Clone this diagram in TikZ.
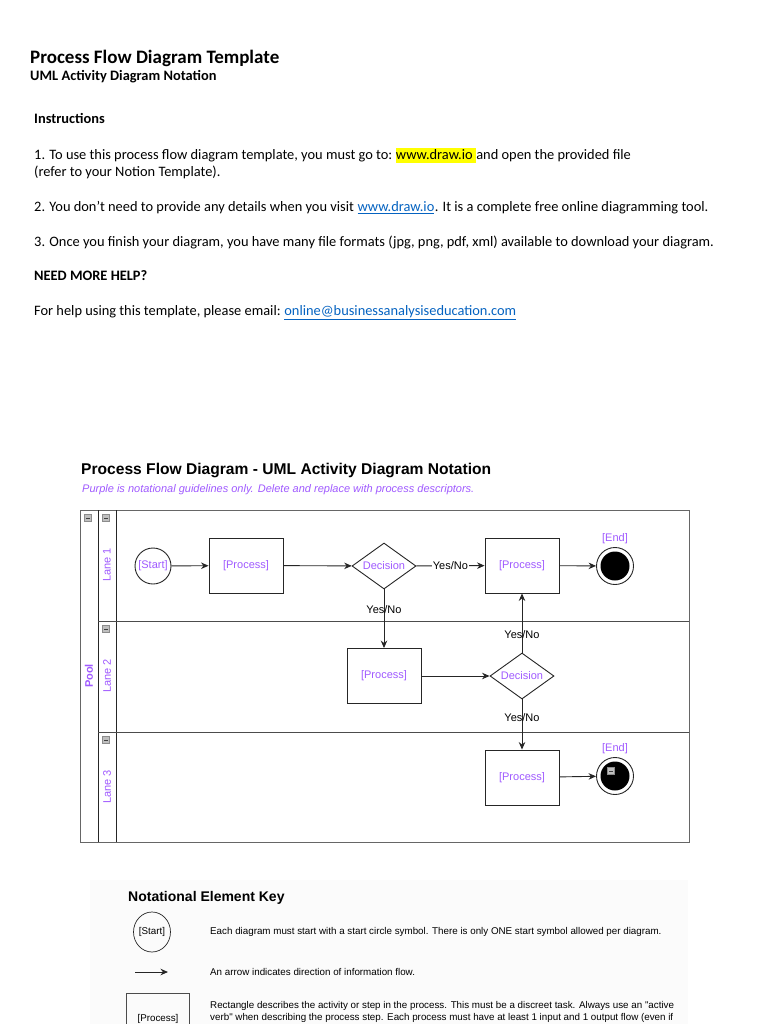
\documentclass[tikz,border=0pt]{standalone}
\usepackage{fontspec}
\setmainfont{Carlito}
\newfontfamily\arialfont{Liberation Sans}
\usetikzlibrary{shapes.geometric,arrows.meta,positioning}
\definecolor{notepurple}{HTML}{A05AFF}
\definecolor{linkblue}{HTML}{0563C1}
\definecolor{hlyellow}{HTML}{FFFF00}
\newlength{\procwidth}
\setlength{\procwidth}{74pt}
\newlength{\procheight}
\setlength{\procheight}{55pt}
\newcommand{\bodysize}{\fontsize{14.4}{17}\selectfont}
\newcommand{\drawsize}{\arialfont\fontsize{11}{13}\selectfont}
\newcommand{\keysize}{\arialfont\fontsize{9.8}{12}\selectfont}

\begin{document}
\begin{tikzpicture}[x=1pt,y=-1pt]
  \tikzstyle{txt}=[anchor=base west, inner sep=0pt, font=\bodysize]
  \tikzstyle{link}=[txt, text=linkblue]
  \tikzstyle{flow}=[draw=black!85, line width=0.9pt, -{Stealth[length=7.5pt,width=6.5pt]}]
  \tikzstyle{procnode}=[rectangle, draw=black!85, line width=0.9pt,
       minimum width=\procwidth, minimum height=\procheight,
       font=\drawsize, text=notepurple]
  \tikzstyle{decnode}=[diamond, draw=black!85, line width=0.9pt, aspect=1.4,
       inner sep=0pt, minimum width=64pt, minimum height=46pt,
       font=\drawsize, text=notepurple]
  \tikzstyle{startnode}=[circle, draw=black!85, line width=0.9pt,
       minimum size=36pt, inner sep=0pt, font=\drawsize, text=notepurple]
  \tikzstyle{endnode}=[circle, draw=black!85, line width=0.9pt, minimum size=37pt,
       path picture={\fill[black] (path picture bounding box.center) circle (14.5pt);}]
  \tikzstyle{lanelabel}=[rotate=90, font=\drawsize, text=notepurple]
  \tikzstyle{edgelabel}=[font=\drawsize, inner sep=1pt]
  \tikzstyle{minusbox}=[rectangle, draw=black!45, fill=black!25, minimum size=7pt,
       inner sep=0pt,
       path picture={\draw[black!75, line width=1pt]
         ([xshift=-2pt]path picture bounding box.center) --
         ([xshift=2pt]path picture bounding box.center);}]

  \useasboundingbox (0,0) rectangle (768,1024);
  \fill[white] (0,0) rectangle (768,1024);

  % instructions
  \node[txt, font=\fontsize{19}{23}\selectfont\bfseries] (title) at (30,64) {Process Flow Diagram Template};
  \node[txt, font=\bodysize\bfseries] (subtitle) at (30,81) {UML Activity Diagram Notation};
  \node[txt, font=\bodysize\bfseries] (instr) at (34,124) {Instructions};
  \node[txt] (step1) at (34,160) {1. To use this process flow diagram template, you must go to:\ \mbox{}};
  \node[txt, fill=hlyellow, inner ysep=2.5pt] (drawio) at (step1.base east) {www.draw.io\ \mbox{}};
  \node[txt] (step1b) at (drawio.base east) {and open the provided file};
  \node[txt] (step1c) at (34,177) {(refer to your Notion Template).};
  \node[txt] (step2) at (34,212) {2. You don't need to provide any details when you visit\ \mbox{}};
  \node[link] (drawlink) at (step2.base east) {\underline{www.draw.io}};
  \node[txt] (step2b) at (drawlink.base east) {. It is a complete free online diagramming tool.};
  \node[txt] (step3) at (34,246) {3. Once you finish your diagram, you have many file formats (jpg, png, pdf, xml) available to download your diagram.};
  \node[txt, font=\bodysize\bfseries] (help) at (34,280) {NEED MORE HELP?};
  \node[txt] (email) at (34,315) {For help using this template, please email:\ \mbox{}};
  \node[link] (maillink) at (email.base east) {\underline{online@businessanalysiseducation.com}};

  % diagram heading
  \node[txt, font=\arialfont\fontsize{15.6}{18}\selectfont\bfseries] (dtitle) at (81,474.5)
       {Process Flow Diagram - UML Activity Diagram Notation};
  \node[txt, font=\arialfont\fontsize{11}{13}\selectfont\itshape, text=notepurple] (dnote) at (82,492)
       {Purple is notational guidelines only. Delete and replace with process descriptors.};

  % pool and lanes
  \draw[black!60, line width=0.9pt] (80,510) rectangle (689,842);
  \draw[black!85, line width=0.9pt] (98,510) -- (98,842);
  \draw[black!85, line width=0.9pt] (116,510) -- (116,842);
  \draw[black!70, line width=0.9pt] (98,621) -- (689,621);
  \draw[black!70, line width=0.9pt] (98,732) -- (689,732);
  \node[minusbox] (poolbox) at (88,518) {};
  \node[minusbox] (lane1box) at (106,518) {};
  \node[minusbox] (lane2box) at (106,629) {};
  \node[minusbox] (lane3box) at (106,740) {};
  \node[lanelabel, font=\drawsize\bfseries] (pool) at (89,676) {Pool};
  \node[lanelabel] (lane1) at (107,565) {Lane 1};
  \node[lanelabel] (lane2) at (107,676) {Lane 2};
  \node[lanelabel] (lane3) at (107,787) {Lane 3};

  % lane 1
  \node[startnode] (start) at (153,566) {[Start]};
  \node[procnode] (proc1) at (246,565.5) {[Process]};
  \node[decnode] (dec1) at (384,566) {Decision};
  \node[procnode] (proc2) at (522,565.5) {[Process]};
  \node[endnode, label={[font=\drawsize, text=notepurple]above:{[End]}}] (end1) at (615,566) {};

  % lane 2
  \node[procnode] (proc3) at (384,676) {[Process]};
  \node[decnode] (dec2) at (522,676) {Decision};

  % lane 3
  \node[procnode] (proc4) at (522,777.5) {[Process]};
  \node[endnode, label={[font=\drawsize, text=notepurple]above:{[End]}}] (end2) at (615,776) {};
  \node[minusbox] (endbox) at (611,771) {};

  % flows
  \draw[flow] (start) -- (proc1);
  \draw[flow] (proc1) -- (dec1);
  \draw[flow] (dec1) -- node[edgelabel, fill=white] {Yes/No} (proc2);
  \draw[flow] (proc2) -- (end1);
  \draw[flow] (dec1) -- node[edgelabel, pos=0.34] {Yes/No} (proc3);
  \draw[flow] (proc3) -- (dec2);
  \draw[flow] (dec2) -- node[edgelabel, pos=0.3] {Yes/No} (proc2);
  \draw[flow] (dec2) -- node[edgelabel, pos=0.37] {Yes/No} (proc4);
  \draw[flow] (proc4) -- (end2);

  % notational key
  \fill[black!1.5] (90,880) rectangle (688,1024);
  \node[txt, font=\arialfont\fontsize{14}{17}\selectfont\bfseries] (keytitle) at (128,901) {Notational Element Key};
  \node[ellipse, draw=black!85, line width=0.7pt, minimum width=34pt, minimum height=40pt,
        inner sep=0pt, font=\keysize] (keystart) at (152,932) {[Start]};
  \node[anchor=west, inner sep=0pt, font=\keysize] (keystarttxt) at (210,932)
       {Each diagram must start with a start circle symbol. There is only ONE start symbol allowed per diagram.};
  \coordinate (keyarrowa) at (135,972);
  \coordinate (keyarrowb) at (168,972);
  \draw[flow] (keyarrowa) -- (keyarrowb);
  \node[anchor=west, inner sep=0pt, font=\keysize] (keyarrowtxt) at (210,972)
       {An arrow indicates direction of information flow.};
  \node[rectangle, draw=black!70, line width=0.7pt, minimum width=63pt, minimum height=50pt,
        anchor=north west, font=\keysize] (keyproc) at (126,993) {};
  \node[font=\keysize] (keyproctxt) at (158,1019) {[Process]};
  \node[anchor=north west, inner sep=0pt, align=left, font=\keysize] (keyproctext) at (210,1001)
       {Rectangle describes the activity or step in the process. This must be a discreet task. Always use an "active\\
        verb" when describing the process step. Each process must have at least 1 input and 1 output flow (even if};
\end{tikzpicture}
\end{document}
